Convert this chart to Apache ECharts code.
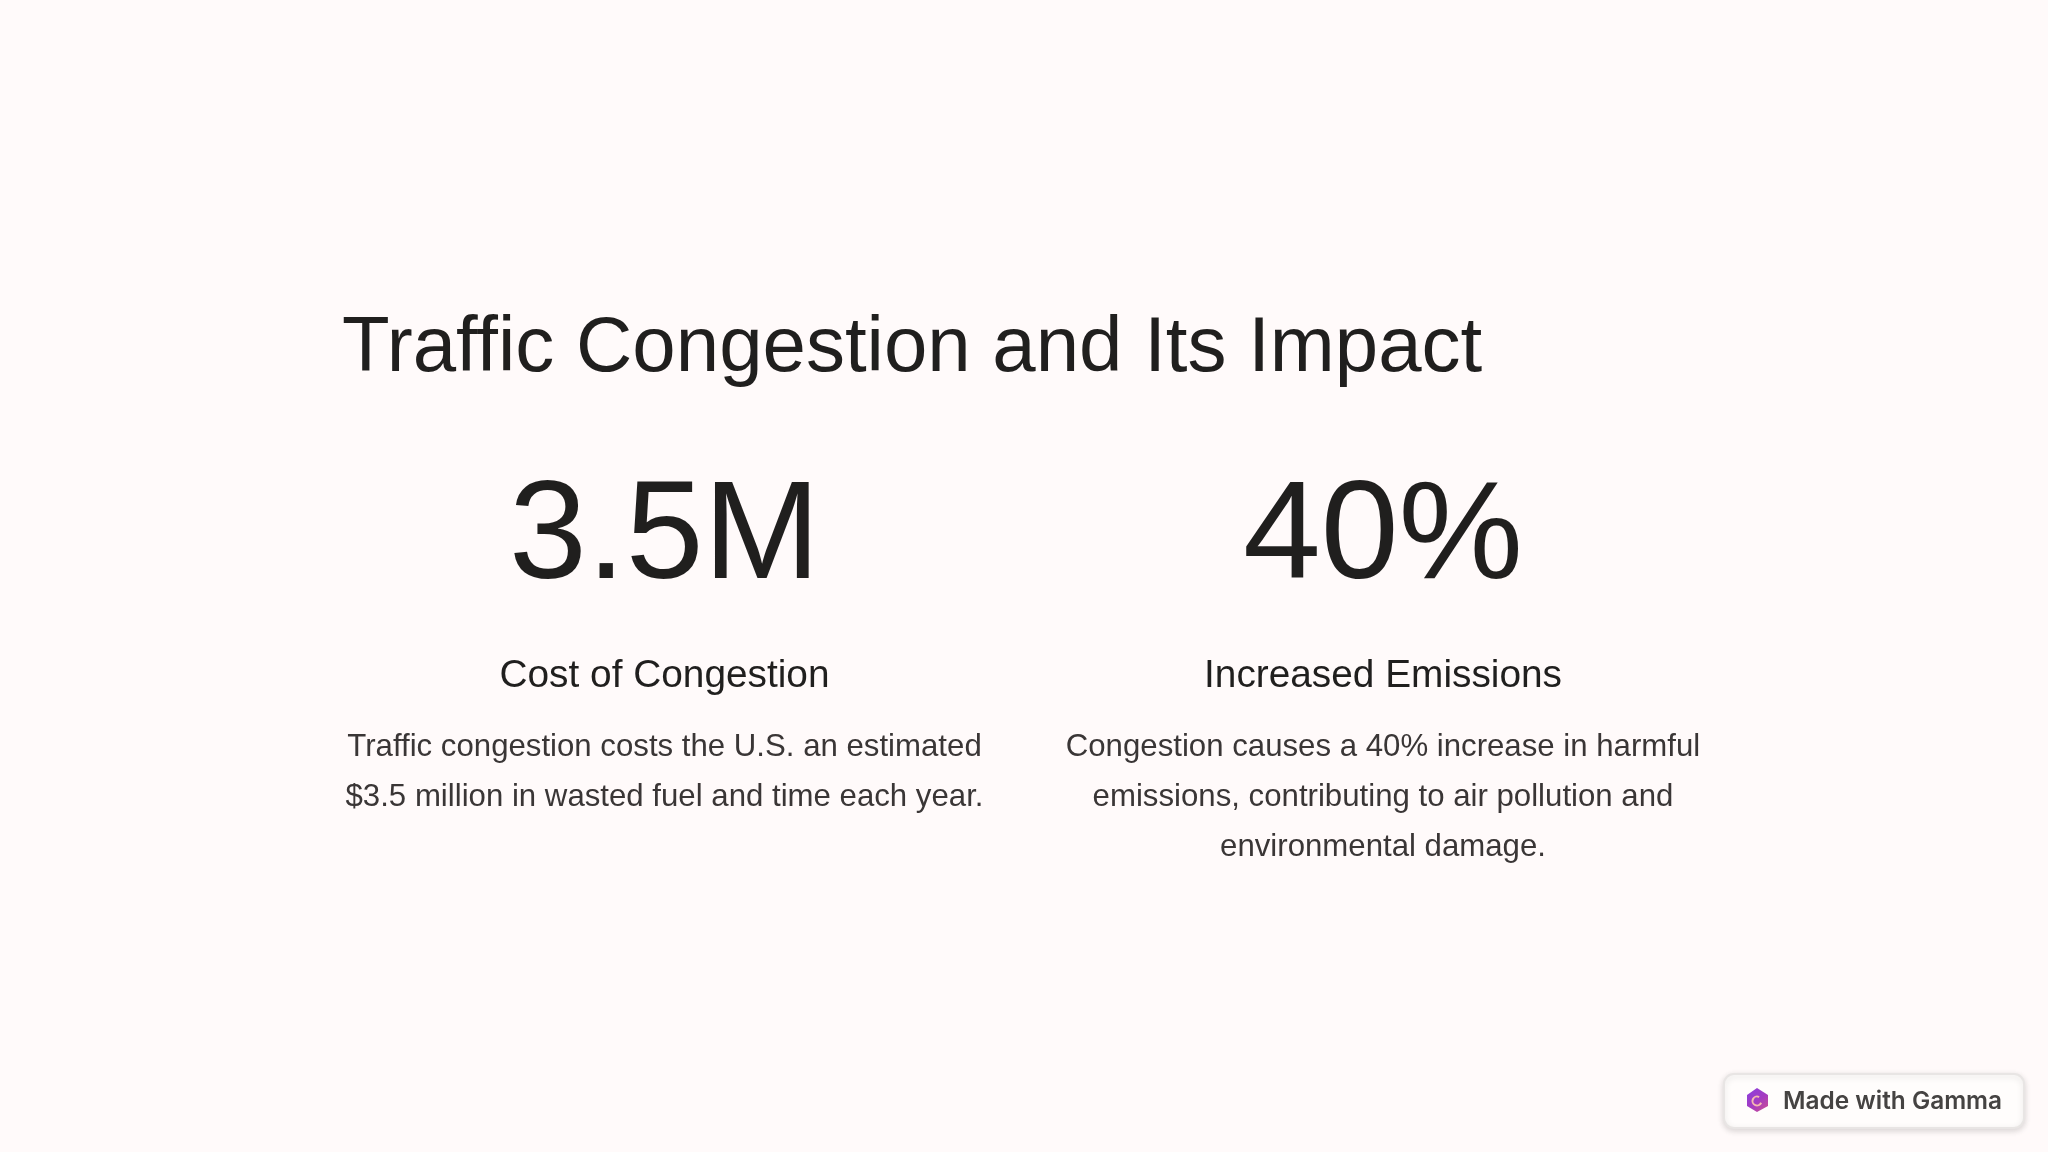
<!DOCTYPE html>
<html>
<head>
<meta charset="utf-8">
<style>
html, body { margin: 0; padding: 0; background: #fffafa; }
#chart { width: 2048px; height: 1152px; }
</style>
<script src="https://cdn.jsdelivr.net/npm/echarts@6/dist/echarts.min.js"></script>
</head>
<body>
<div id="chart"></div>
<script>
const pageTitle = "Traffic Congestion and Its Impact";
const statValues = ["3.5M", "40%"];
const statNames = ["Cost of Congestion", "Increased Emissions"];
const statNotes = [
    ["Traffic congestion costs the U.S. an estimated", "$3.5 million in wasted fuel and time each year."],
    ["Congestion causes a 40% increase in harmful", "emissions, contributing to air pollution and", "environmental damage."],
];
const badgeText = "Made with Gamma";

const font = "'Liberation Sans', Arial, sans-serif";
const columnX = [664.5, 1383];
const noteY = [747, 797, 847];

const textEl = (text, x, y, size, fill, align = "center") => ({
    type: "text",
    x,
    y,
    silent: true,
    style: { text, fill, align, verticalAlign: "middle", font: `${size}px ${font}` },
});

const elements = [
    textEl(pageTitle, 342, 349, 78, "#201f1e", "left"),
];

statValues.forEach((value, i) => {
    elements.push(textEl(value, columnX[i], 539, 140, "#201f1e"));
    elements.push(textEl(statNames[i], columnX[i], 676, 38.8, "#201f1e"));
    statNotes[i].forEach((line, j) => {
        elements.push(textEl(line, columnX[i], noteY[j], 31.2, "#3a3636"));
    });
});

// badge bottom right
elements.push({
    type: "rect",
    silent: true,
    shape: { x: 1724, y: 1074, width: 300, height: 54, r: 10 },
    style: {
        fill: "#fffdfc",
        stroke: "#e8e5e4",
        lineWidth: 2,
        shadowBlur: 6,
        shadowColor: "rgba(0,0,0,0.14)",
        shadowOffsetY: 2,
    },
});
elements.push({
    type: "polygon",
    silent: true,
    shape: { points: [[1757, 1088], [1768, 1095], [1768, 1106], [1757, 1112], [1747, 1106], [1747, 1095]] },
    style: {
        fill: new echarts.graphic.LinearGradient(0, 0, 1, 1, [
            { offset: 0, color: "#8a3fe0" },
            { offset: 0.55, color: "#a53cc0" },
            { offset: 1, color: "#d0508f" },
        ]),
    },
});
elements.push({
    type: "arc",
    silent: true,
    shape: { cx: 1757, cy: 1101, r: 4.5, startAngle: 0.4, endAngle: 5.2 },
    style: { stroke: "#f5b9b0", fill: null, lineWidth: 2 },
});
elements.push({
    type: "text",
    x: 1783,
    y: 1102,
    silent: true,
    style: {
        text: badgeText,
        fill: "#454342",
        align: "left",
        verticalAlign: "middle",
        font: "600 24.4px Inter, sans-serif",
    },
});

const myChart = echarts.init(document.getElementById("chart"));
myChart.setOption({
    backgroundColor: "#fffafa",
    animation: false,
    graphic: { elements },
});
</script>
</body>
</html>
